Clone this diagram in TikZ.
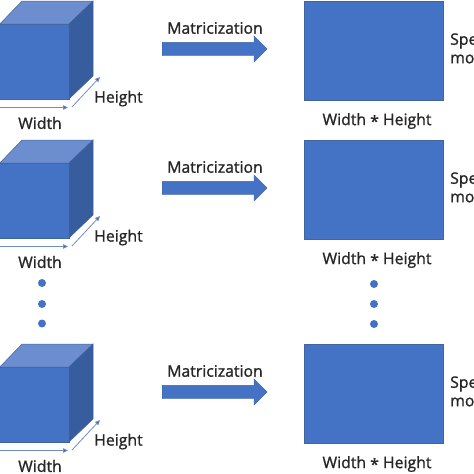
\documentclass[tikz,border=0pt]{standalone}
\usepackage{fontspec}
\setmainfont{Open Sans}
\newfontfamily\labfont[FakeBold=1.2]{Open Sans}
\usetikzlibrary{arrows.meta,shapes.arrows}
\definecolor{fr}{HTML}{4472C4}
\definecolor{sd}{HTML}{375D9E}
\definecolor{tp}{HTML}{6C8ECF}
\definecolor{ln}{HTML}{41659F}
\definecolor{ax}{HTML}{6F8FC4}
\tikzset{
 lab/.style={font=\labfont\fontsize{15.8pt}{18pt}\selectfont,text=black!85,inner sep=0pt,anchor=center},
 sidelab/.style={lab,anchor=west},
 face/.style={draw=ln,line width=.5pt,line join=miter},
 flat/.style={fill=fr,draw=ln,line width=.6pt},
 axis/.style={draw=ax,line width=.8pt,-{Triangle[length=5pt,width=4.5pt,fill=sd]}},
 blockarrow/.style={fill=fr,draw=ln,line width=.3pt},
 dot/.style={circle,fill=fr,draw=none,minimum size=8pt,inner sep=0pt},
}
\begin{document}
\begin{tikzpicture}[x=1pt,y=-1pt]
\useasboundingbox (0,0) rectangle (474,474);
\clip (0,0) rectangle (474,474);
\foreach \n/\d in {a/0,b/139,c/343}{
 \begin{scope}[yshift=-\d pt]
  \fill[fr,face] (-5,24) rectangle (69,99);
  \fill[tp,face] (-5,29) -- (22,1) -- (93,1) -- (69,24) -- (-5,24) -- cycle;
  \fill[sd,face] (69,24) -- (93,1) -- (93,76) -- (69,99) -- cycle;
  \coordinate (\n wa) at (0,107.5);
  \coordinate (\n wb) at (68,107.5);
  \coordinate (\n ha) at (72,107);
  \coordinate (\n hb) at (100,77);
  \draw[axis] (\n wa) -- (\n wb);
  \draw[axis] (\n ha) -- (\n hb);
  \node[lab] (\n w) at (40,123) {Width};
  \node[lab] (\n h) at (118.5,98.5) {Height};
  \node[lab] (\n m) at (215,28) {Matricization};
  \node[blockarrow,single arrow,anchor=west,minimum height=105pt,minimum width=26pt,single arrow head extend=6.5pt,single arrow tip angle=90,inner xsep=0pt,inner ysep=6.5pt] (\n arrow) at (162,49) {};
  \node[flat,minimum width=139pt,minimum height=99.5pt,inner sep=0pt,anchor=north west] (\n r) at (304,0.5) {};
  \node[lab] (\n rl) at (377,121) {Width \raisebox{-2pt}{*} Height};
  \node[sidelab] (\n s) at (450,41) {Spe};
  \node[sidelab] (\n t) at (450,59) {mo};
 \end{scope}
}
\node[dot] (d1) at (42,283) {};
\node[dot] (d2) at (42,304) {};
\node[dot] (d3) at (42,323.5) {};
\node[dot] (e1) at (374,284) {};
\node[dot] (e2) at (374,304) {};
\node[dot] (e3) at (374,324) {};
\end{tikzpicture}
\end{document}
